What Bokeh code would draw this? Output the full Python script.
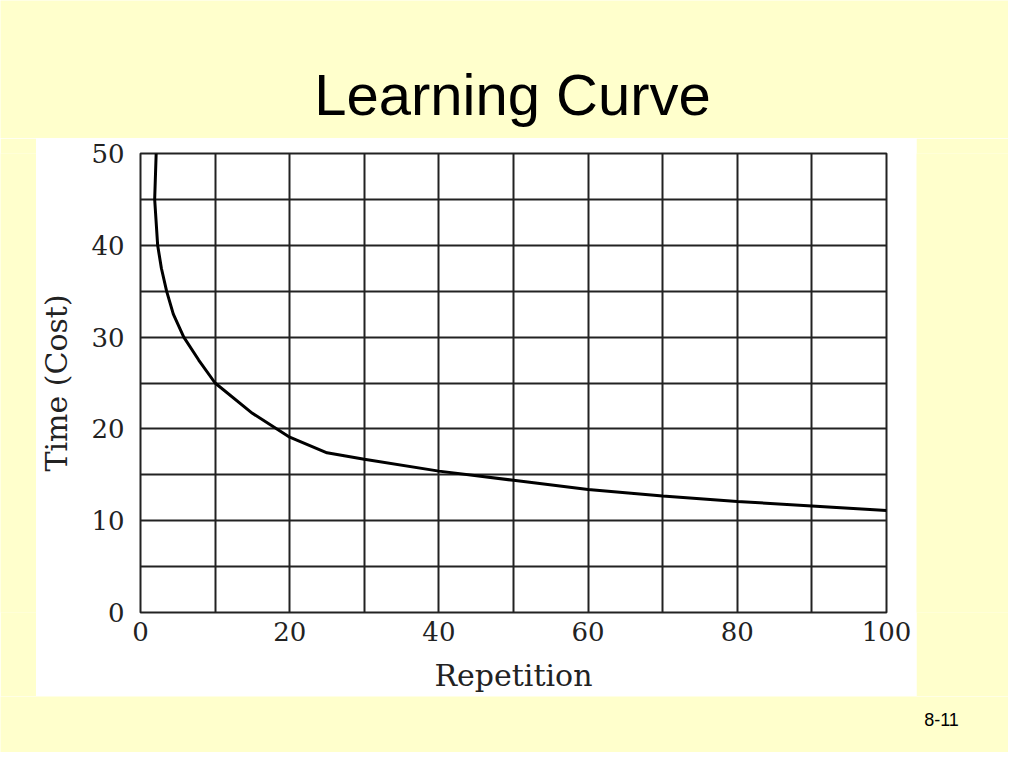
from bokeh.plotting import figure
from bokeh.models import FixedTicker, Range1d
from bokeh.layouts import column, row
from bokeh.core.properties import value
from bokeh.embed import file_html
from bokeh.resources import INLINE

# Data
repetition = [2.1, 1.9, 2.3, 2.8, 3.5, 4.4, 5.8, 7.8, 10, 15, 20, 25, 30, 40, 50, 60, 70, 80, 90, 100]
time_cost = [50, 45, 40, 37.5, 35, 32.5, 30, 27.5, 25, 21.7, 19.1, 17.4, 16.7, 15.4, 14.4, 13.4, 12.7, 12.1, 11.6, 11.1]
x_tick_values = [0, 20, 40, 60, 80, 100]
y_tick_values = [0, 10, 20, 30, 40, 50]
x_grid_values = [0, 10, 20, 30, 40, 50, 60, 70, 80, 90, 100]
y_grid_values = [0, 5, 10, 15, 20, 25, 30, 35, 40, 45, 50]
title_text = "Learning Curve"
x_label = "Repetition"
y_label = "Time (Cost)"
footer_text = "8-11"

BG = "#FFFFCC"
TITLE_H, ROW_H, FOOT_H = 138, 558, 56


def blank(width, height):
    f = figure(width=width, height=height, output_backend="svg", toolbar_location=None,
               x_range=Range1d(0, width), y_range=Range1d(0, height),
               x_axis_type=None, y_axis_type=None, min_border=0)
    f.background_fill_color = BG
    f.border_fill_color = BG
    f.outline_line_color = None
    f.grid.visible = False
    return f


# Title band
title_fig = blank(1008, TITLE_H)
title_fig.text(x=[512], y=[TITLE_H - 94], text=[title_text], text_align="center",
               text_baseline="middle", text_font=value("Liberation Sans"),
               text_font_size="58px", text_color="black")

# Side bands
left_fig = blank(36, ROW_H)
right_fig = blank(92, ROW_H)

# Main chart
p = figure(width=880, height=ROW_H, output_backend="svg", toolbar_location=None,
           x_range=Range1d(0, 100), y_range=Range1d(0, 50),
           min_border_left=104, min_border_right=30,
           min_border_top=15, min_border_bottom=ROW_H - 15 - 459)
p.background_fill_color = "white"
p.border_fill_color = "white"
p.outline_line_color = "#222222"
p.outline_line_width = 2

p.xgrid.ticker = FixedTicker(ticks=x_grid_values)
p.ygrid.ticker = FixedTicker(ticks=y_grid_values)
for g in (p.xgrid, p.ygrid):
    g.grid_line_color = "#222222"
    g.grid_line_width = 2
    g.grid_line_alpha = 1.0

p.xaxis.ticker = FixedTicker(ticks=x_tick_values)
p.yaxis.ticker = FixedTicker(ticks=y_tick_values)
for ax in (p.xaxis, p.yaxis):
    ax.axis_line_color = None
    ax.major_tick_line_color = None
    ax.minor_tick_line_color = None
    ax.major_tick_out = 0
    ax.major_tick_in = 0
    ax.major_label_text_font = "DejaVu Serif"
    ax.major_label_text_font_size = "26px"
    ax.major_label_text_color = "#222222"
    ax.axis_label_text_font = "DejaVu Serif"
    ax.axis_label_text_font_size = "30px"
    ax.axis_label_text_font_style = "normal"
    ax.axis_label_text_color = "#222222"
p.xaxis.major_label_standoff = 9
p.yaxis.major_label_standoff = 16
p.xaxis.axis_label = x_label
p.yaxis.axis_label = y_label
p.xaxis.axis_label_standoff = 14
p.yaxis.axis_label_standoff = 14

p.line(repetition, time_cost, line_color="black", line_width=3)

# Footer band
footer_fig = blank(1008, FOOT_H)
footer_fig.text(x=[941], y=[FOOT_H - 23], text=[footer_text], text_align="center",
                text_baseline="middle", text_font=value("Liberation Sans"),
                text_font_size="18px", text_color="black")

layout = column(title_fig, row(left_fig, p, right_fig), footer_fig)

open("out.html", "w").write(file_html(layout, INLINE))
